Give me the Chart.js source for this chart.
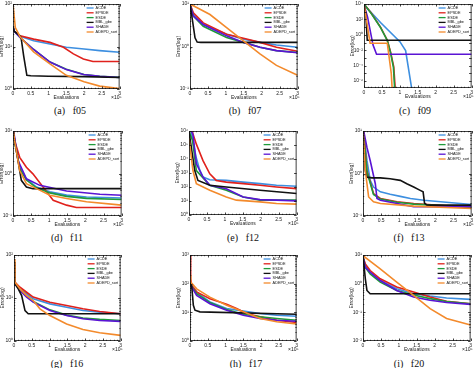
<!DOCTYPE html>
<html>
<head>
<meta charset="utf-8">
<script src="https://cdn.jsdelivr.net/npm/chart.js@4"></script>
<style>
  body { margin: 0; background: #fff; width: 474px; height: 368px; position: relative; overflow: hidden; }
  canvas { position: absolute; }
  .cap { position: absolute; font-family: "Liberation Serif", serif; font-size: 10px; white-space: pre; transform: translate(-50%, -50%); color: #111; }
</style>
</head>
<body>
<script>
// x axis in units of 1e5 evaluations
const evalTicks = [0, 0.5, 1, 1.5, 2, 2.5, 3];
const algos = ['ACDE', 'EPSDE', 'ESDE', 'MBL_gbe', 'SHADE', 'ADEPD_sort'];
const colors = ['#3d8fe0', '#e0211c', '#1f9a3a', '#111111', '#5a14d4', '#f38a2c'];
// lower = drawn on top
const drawOrder = [5, 4, 3, 1, 2, 0];

// y tick exponents for each panel
const f05Exp = [0, 1, 2];
const f07Exp = [-1, 0, 1];
const f09Exp = [4, 2, 0, -2, -4, -6];
const f11Exp = [-1, 0, 1];
const f12Exp = [0, 1, 2, 3, 4, 5, 6];
const f13Exp = [-1, 0, 1];
const f16Exp = [0, 1, 2];
const f17Exp = [0, 1, 2, 3];
const f20Exp = [-2, -1, 0, 1];

// series per panel, order as in algos: [evaluations, error]
const f05 = [
  [[0, 30], [0.03, 23], [0.2, 17.5], [0.58, 13.6], [1.04, 11.4], [1.5, 9.6], [2, 8.75], [2.44, 8], [3, 7.3]],
  [[0, 30], [0.03, 23], [0.2, 17.8], [0.58, 14.9], [1.04, 12.5], [1.42, 9.6], [1.7, 6.7], [1.98, 5.1], [2.25, 4.45], [3, 4.45]],
  [[0, 30], [0.03, 23], [0.2, 16.3], [0.58, 8.5], [1.04, 4.3], [1.5, 2.9], [2, 2.2], [2.44, 2.0], [3, 1.88]],
  [[0, 30], [0.03, 23], [0.2, 17.8], [0.23, 15.5], [0.3, 6], [0.39, 2.1], [0.5, 2.05], [1, 2.0], [2, 1.95], [3, 1.86]],
  [[0, 30], [0.03, 23], [0.2, 16.3], [0.58, 8.5], [1.04, 4.3], [1.5, 2.86], [1.98, 2.2], [2.44, 2.0], [3, 1.86]],
  [[0, 100], [0.065, 27.8], [0.2, 17], [0.58, 7.5], [1.04, 3.9], [1.5, 2.1], [2, 1.48], [2.44, 1.17], [3, 1.02]]
];
const f07 = [
  [[0, 10], [0.093, 5.66], [0.37, 3.3], [1.02, 1.95], [1.49, 1.49], [1.95, 1.25], [2.41, 1.08], [3, 0.96]],
  [[0, 10], [0.093, 6.2], [0.37, 3.6], [1.02, 1.95], [1.49, 1.57], [1.95, 1.25], [2.41, 0.96], [3, 0.77]],
  [[0, 9.5], [0.093, 5.2], [0.37, 3.0], [1.02, 1.63], [1.49, 1.25], [1.95, 0.96], [2.41, 0.8], [3, 0.72]],
  [[0, 10], [0.04, 6], [0.14, 1.6], [0.2, 1.27], [0.3, 1.25], [3, 1.25]],
  [[0, 9.5], [0.093, 5.2], [0.37, 3.3], [1.02, 1.78], [1.49, 1.25], [1.95, 0.96], [2.41, 0.8], [3, 0.71]],
  [[0, 10], [0.28, 7.5], [0.557, 5.66], [1.02, 2.78], [1.49, 1.36], [1.95, 0.67], [2.41, 0.36], [3, 0.21]]
];
const f09 = [
  [[0, 8000], [0.46, 40], [1.0, 0.13], [1.16, 0.009], [1.4, 1e-9]],
  [[0, 10000], [0.19, 800], [0.46, 10], [0.65, 0.2], [0.74, 0.006], [0.83, 7e-5], [0.9, 1e-9]],
  [[0, 10000], [0.19, 700], [0.46, 9], [0.65, 0.18], [0.74, 0.005], [0.82, 6e-5], [0.88, 1e-9]],
  [[0, 10000], [0.05, 500], [0.09, 0.2], [3, 0.2]],
  [[0, 8000], [0.1, 200], [0.25, 0.05], [0.35, 0.003], [3, 0.003]],
  [[0, 10000], [0.17, 0.08], [0.65, 0.08], [0.69, 0.003], [0.76, 1e-5], [0.81, 1e-9]]
];
const f11 = [
  [[0, 12], [0.046, 5.85], [0.185, 1.4], [0.37, 0.75], [0.65, 0.48], [1.02, 0.37], [1.48, 0.31], [2.03, 0.28], [3, 0.265]],
  [[0, 12], [0.046, 5.85], [0.185, 2.4], [0.37, 1.4], [0.55, 0.98], [0.83, 0.48], [1.11, 0.235], [1.48, 0.18], [1.75, 0.158], [3, 0.158]],
  [[0, 12], [0.046, 5.5], [0.185, 1.3], [0.37, 0.7], [0.65, 0.46], [1.02, 0.35], [1.48, 0.29], [2.03, 0.26], [3, 0.244]],
  [[0, 12], [0.046, 5.85], [0.14, 2.0], [0.23, 0.69], [0.37, 0.48], [0.55, 0.44], [3, 0.44]],
  [[0, 12], [0.046, 7], [0.14, 2.0], [0.37, 0.75], [0.74, 0.526], [1.48, 0.388], [2.4, 0.325], [3, 0.308]],
  [[0, 12], [0.046, 5.85], [0.185, 1.17], [0.37, 0.575], [0.65, 0.44], [1.02, 0.308], [1.48, 0.258], [2.03, 0.216], [3, 0.18]]
];
const f12 = [
  [[0, 3e6], [0.08, 5e5], [0.2, 12600], [0.3, 1600], [0.39, 510], [0.58, 330], [1.04, 295], [1.51, 224], [1.98, 174], [2.44, 132], [3, 112]],
  [[0, 3e6], [0.084, 1e6], [0.205, 115000], [0.39, 7600], [0.58, 870], [0.76, 295], [1.04, 224], [1.51, 174], [1.98, 132], [2.44, 100], [3, 76]],
  [[0, 1e6], [0.1, 2e5], [0.205, 1500], [0.58, 132], [1.04, 58], [1.51, 19.5], [1.98, 11.5], [3, 11.5]],
  [[0, 1e6], [0.037, 195000], [0.16, 1500], [0.25, 295], [0.58, 132], [1.04, 100], [1.98, 58], [3, 34]],
  [[0, 2e6], [0.11, 575000], [0.205, 4500], [0.39, 510], [0.58, 132], [1.04, 76], [1.51, 19.5], [1.98, 12.6], [2.44, 11.5], [3, 10.2]],
  [[0, 3e5], [0.11, 1500], [0.205, 174], [0.58, 58], [1.04, 19.5], [1.32, 11.5], [1.98, 8.7], [2.44, 6.6], [3, 6.0]]
];
const f13 = [
  [[0, 12], [0.11, 2.0], [0.2, 0.69], [0.29, 0.48], [0.48, 0.37], [0.75, 0.325], [1.03, 0.29], [1.31, 0.258], [1.68, 0.235], [3, 0.187]],
  [[0, 12], [0.018, 10], [0.11, 1.17], [0.29, 0.337], [0.48, 0.258], [0.94, 0.216], [1.4, 0.197], [3, 0.158]],
  [[0, 12], [0.11, 1.1], [0.29, 0.32], [0.48, 0.25], [0.94, 0.21], [1.4, 0.19], [3, 0.16]],
  [[0, 12], [0.064, 1.17], [0.11, 0.82], [0.25, 0.79], [0.48, 0.79], [0.75, 0.75], [1.03, 0.69], [1.21, 0.575], [1.4, 0.48], [1.58, 0.4], [1.66, 0.37], [1.7, 0.2], [1.77, 0.18], [3, 0.18]],
  [[0, 12], [0.11, 4.1], [0.2, 2.0], [0.34, 0.575], [0.386, 0.258], [0.48, 0.235], [0.94, 0.197], [1.4, 0.165], [3, 0.165]],
  [[0, 12], [0.064, 1.17], [0.156, 0.28], [0.29, 0.216], [0.48, 0.197], [1.4, 0.171], [3, 0.15]]
];
const f16 = [
  [[0, 67], [0.028, 23.3], [0.168, 16.3], [0.355, 12.5], [0.54, 9.6], [1.01, 7.3], [1.48, 6.1], [1.94, 5.1], [2.41, 4.7], [3, 4.3]],
  [[0, 67], [0.028, 23.3], [0.168, 17.8], [0.355, 13.6], [0.54, 10.5], [1.01, 8.0], [1.48, 6.7], [1.94, 5.6], [2.41, 4.86], [3, 4.3]],
  [[0, 67], [0.028, 21.3], [0.168, 15.5], [0.355, 11], [0.54, 8.3], [1.01, 5.3], [1.48, 4.0], [1.94, 3.4], [2.41, 3.18], [3, 3.0]],
  [[0, 67], [0.028, 21.3], [0.12, 16.3], [0.215, 11.4], [0.31, 5.1], [0.4, 4.3], [3, 4.3]],
  [[0, 67], [0.028, 21.3], [0.168, 14.9], [0.355, 10.5], [0.54, 8.0], [1.01, 5.1], [1.48, 3.9], [1.94, 3.3], [2.41, 3.0], [3, 2.86]],
  [[0, 80], [0.028, 23.3], [0.168, 16.3], [0.355, 11.4], [0.54, 8.75], [0.73, 5.6], [1.01, 3.9], [1.48, 2.5], [1.94, 1.86], [2.41, 1.56], [3, 1.35]]
];
const f17 = [
  [[0, 113], [0.019, 99], [0.187, 51], [0.56, 23], [1.03, 13.5], [1.5, 11], [1.97, 9.1], [2.44, 7.9], [3, 7.3]],
  [[0, 1000], [0.019, 148], [0.047, 87], [0.187, 51], [0.375, 39], [0.56, 30], [0.84, 23], [1.03, 19], [1.31, 13.5], [1.59, 9.1], [1.97, 7.0], [2.44, 5.3], [3, 4.4]],
  [[0, 100], [0.019, 87], [0.187, 45], [0.56, 21.9], [1.03, 12.5], [1.5, 8.6], [1.97, 7.0], [2.44, 6.1], [3, 5.3]],
  [[0, 113], [0.047, 87], [0.094, 17.7], [0.14, 11.9], [0.28, 10.4], [3, 8.6]],
  [[0, 100], [0.019, 87], [0.187, 39], [0.56, 20], [1.03, 11.9], [1.5, 7.9], [1.97, 6.1], [2.44, 5.3], [3, 4.9]],
  [[0, 200], [0.019, 113], [0.187, 66], [0.56, 34], [1.03, 17.7], [1.5, 10.4], [1.97, 6.1], [2.44, 4.7], [3, 3.9]]
];
const f20 = [
  [[0, 8.3], [0.065, 4.3], [0.2, 2.5], [0.48, 1.29], [0.94, 0.67], [1.41, 0.447], [1.87, 0.37], [2.33, 0.316], [3, 0.284]],
  [[0, 8.3], [0.065, 4.9], [0.2, 2.87], [0.48, 1.48], [0.94, 0.76], [1.41, 0.51], [1.87, 0.343], [2.33, 0.243], [3, 0.2]],
  [[0, 8.3], [0.065, 3.7], [0.2, 2.2], [0.48, 1.13], [0.94, 0.58], [1.41, 0.4], [1.87, 0.3], [2.33, 0.24], [3, 0.2]],
  [[0, 9.5], [0.065, 1.48], [0.11, 0.58], [0.2, 0.447], [3, 0.447]],
  [[0, 8.3], [0.065, 3.7], [0.2, 2.5], [0.48, 1.29], [0.94, 0.58], [1.41, 0.343], [1.87, 0.263], [2.33, 0.219], [3, 0.19]],
  [[0, 9.5], [0.48, 3.3], [0.94, 1.13], [1.41, 0.39], [1.87, 0.135], [2.33, 0.061], [3, 0.036]]
];

// layout: plot box [left, top, right, bottom] and caption centre
const panels = [
  { tag: '(a)', fn: 'f05', data: f05, exps: f05Exp, min: 1, max: 100, box: [13, 3, 120, 89], cap: [70, 110] },
  { tag: '(b)', fn: 'f07', data: f07, exps: f07Exp, min: 0.1, max: 10, box: [190, 3, 298, 89], cap: [245, 110] },
  { tag: '(c)', fn: 'f09', data: f09, exps: f09Exp, min: Math.pow(10, -6.9), max: 1e4, box: [364, 3, 472, 88], cap: [415, 110] },
  { tag: '(d)', fn: 'f11', data: f11, exps: f11Exp, min: 0.1, max: 10, box: [13, 130, 122, 216], cap: [67, 237] },
  { tag: '(e)', fn: 'f12', data: f12, exps: f12Exp, min: 1, max: 1e6, box: [189, 130, 297, 215], cap: [243, 237] },
  { tag: '(f)', fn: 'f13', data: f13, exps: f13Exp, min: 0.1, max: 10, box: [363, 130, 472, 216], cap: [409, 237] },
  { tag: '(g)', fn: 'f16', data: f16, exps: f16Exp, min: 1, max: 100, box: [14, 254, 121, 341], cap: [67, 363] },
  { tag: '(h)', fn: 'f17', data: f17, exps: f17Exp, min: 1, max: 1000, box: [190, 254, 297, 341], cap: [246, 363] },
  { tag: '(i)', fn: 'f20', data: f20, exps: f20Exp, min: 0.01, max: 10, box: [363, 254, 471, 341], cap: [409, 363] }
];

const AXIS_W = 14, AXIS_H = 12, PAD_T = 3, PAD_R = 3;
const tickFont = { family: '"Liberation Sans", Arial, sans-serif', size: 5 };
const sup = n => String(n).split('').map(c => c === '-' ? '⁻' : '⁰¹²³⁴⁵⁶⁷⁸⁹'[+c]).join('');

// frame with inward ticks, legend and the x10^5 note
const frame = {
  id: 'frame',
  afterDatasetsDraw(chart) {
    const { ctx, chartArea: a, scales: { x, y } } = chart;
    ctx.save();
    ctx.strokeStyle = '#111';
    ctx.lineWidth = 0.8;
    ctx.strokeRect(a.left + 0.5, a.top + 0.5, a.right - a.left - 1, a.bottom - a.top - 1);
    ctx.beginPath();
    for (let v = 0; v <= 3.001; v += 0.1) {
      const px = Math.round(x.getPixelForValue(v)) + 0.5;
      const len = Math.abs(v * 2 - Math.round(v * 2)) < 0.01 ? 2.5 : 1.2;
      ctx.moveTo(px, a.bottom); ctx.lineTo(px, a.bottom - len);
      ctx.moveTo(px, a.top); ctx.lineTo(px, a.top + len);
    }
    const e0 = Math.floor(Math.log10(y.min)), e1 = Math.ceil(Math.log10(y.max));
    const dense = e1 - e0 > 4;
    for (let e = e0; e <= e1; e++) {
      for (let k = 1; k <= 9; k++) {
        if (dense && k > 1) break;
        const v = k * Math.pow(10, e);
        if (v < y.min * 0.999 || v > y.max * 1.001) continue;
        const py = Math.round(y.getPixelForValue(v)) + 0.5;
        const len = k === 1 ? 2.5 : 1.2;
        ctx.moveTo(a.left, py); ctx.lineTo(a.left + len, py);
        ctx.moveTo(a.right, py); ctx.lineTo(a.right - len, py);
      }
    }
    ctx.stroke();

    // legend
    const lx = a.right - 33, ly = a.top + 4;
    ctx.font = '3.8px "Liberation Sans", Arial, sans-serif';
    ctx.textBaseline = 'middle';
    chart.data.datasets.forEach((ds, i) => {
      const yy = ly + i * 4.8;
      ctx.strokeStyle = ds.borderColor;
      ctx.lineWidth = 1.3;
      ctx.beginPath(); ctx.moveTo(lx, yy); ctx.lineTo(lx + 7, yy); ctx.stroke();
      ctx.fillStyle = '#111';
      ctx.fillText(ds.label, lx + 9, yy);
    });

    ctx.font = '5px "Liberation Sans", Arial, sans-serif';
    ctx.textAlign = 'right';
    ctx.textBaseline = 'middle';
    ctx.fillText('×10' + sup(5), a.right + 2, a.bottom + 9);
    ctx.restore();
  }
};

panels.forEach(p => {
  const [l, t, r, b] = p.box;
  const cv = document.createElement('canvas');
  cv.width = (r - l) + AXIS_W + PAD_R;
  cv.height = (b - t) + PAD_T + AXIS_H;
  cv.style.left = (l - AXIS_W) + 'px';
  cv.style.top = (t - PAD_T) + 'px';
  document.body.appendChild(cv);

  new Chart(cv, {
    type: 'line',
    data: {
      datasets: p.data.map((pts, i) => ({
        label: algos[i],
        data: pts.map(([x, y]) => ({ x, y })),
        borderColor: colors[i],
        borderWidth: 1.6,
        pointRadius: 0,
        tension: 0,
        order: drawOrder[i]
      }))
    },
    options: {
      responsive: false,
      animation: false,
      devicePixelRatio: 1,
      layout: { padding: { top: PAD_T, right: PAD_R, left: 0, bottom: 0 } },
      plugins: { legend: { display: false }, tooltip: { enabled: false } },
      scales: {
        x: {
          type: 'linear', min: 0, max: 3,
          grid: { display: false, drawTicks: false }, border: { display: false },
          afterBuildTicks: s => { s.ticks = evalTicks.map(v => ({ value: v })); },
          afterFit: s => { s.height = AXIS_H; },
          ticks: { font: tickFont, color: '#222', padding: 2, maxRotation: 0, autoSkip: false, callback: v => String(v) },
          title: { display: true, text: 'Evaluations', font: tickFont, color: '#222', padding: 0 }
        },
        y: {
          type: 'logarithmic', min: p.min, max: p.max,
          grid: { display: false, drawTicks: false }, border: { display: false },
          afterBuildTicks: s => { s.ticks = p.exps.map(e => ({ value: Math.pow(10, e) })); },
          afterFit: s => { s.width = AXIS_W; },
          ticks: { font: tickFont, color: '#222', padding: 1, autoSkip: false, callback: v => '10' + sup(Math.round(Math.log10(v))) },
          title: { display: true, text: 'Error(log)', font: tickFont, color: '#222', padding: 0 }
        }
      }
    },
    plugins: [frame]
  });

  const cap = document.createElement('div');
  cap.className = 'cap';
  cap.textContent = p.tag + '   ' + p.fn;
  cap.style.left = p.cap[0] + 'px';
  cap.style.top = p.cap[1] + 'px';
  document.body.appendChild(cap);
});
</script>
</body>
</html>
